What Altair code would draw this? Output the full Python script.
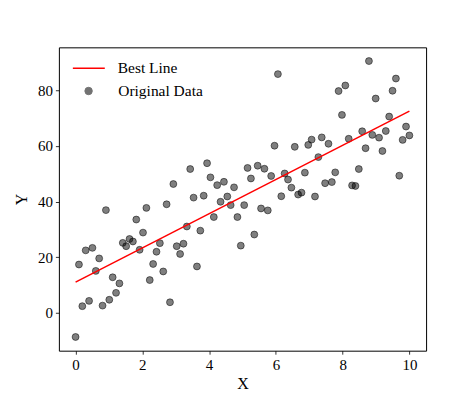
import altair as alt
import pandas as pd

x_vals = [0.0, 0.101, 0.202, 0.303, 0.404, 0.505, 0.606, 0.707, 0.808, 0.909,
          1.010, 1.111, 1.212, 1.313, 1.414, 1.515, 1.616, 1.717, 1.818, 1.919,
          2.020, 2.121, 2.222, 2.323, 2.424, 2.525, 2.626, 2.727, 2.828, 2.929,
          3.030, 3.131, 3.232, 3.333, 3.434, 3.535, 3.636, 3.737, 3.838, 3.939,
          4.040, 4.141, 4.242, 4.343, 4.444, 4.545, 4.646, 4.747, 4.848, 4.949,
          5.051, 5.152, 5.253, 5.354, 5.455, 5.556, 5.657, 5.758, 5.859, 5.960,
          6.061, 6.162, 6.263, 6.364, 6.465, 6.566, 6.667, 6.768, 6.869, 6.970,
          7.071, 7.172, 7.273, 7.374, 7.475, 7.576, 7.677, 7.778, 7.879, 7.980,
          8.081, 8.182, 8.283, 8.384, 8.485, 8.586, 8.687, 8.788, 8.889, 8.990,
          9.091, 9.192, 9.293, 9.394, 9.495, 9.596, 9.697, 9.798, 9.899, 10.0]

y_vals = [-8.8, 17.3, 2.3, 22.4, 4.2, 23.3, 15.0, 19.5, 2.5, 36.9,
          4.6, 12.7, 7.1, 10.5, 25.1, 23.9, 26.5, 25.6, 33.5, 22.6,
          28.8, 37.7, 11.7, 17.5, 21.9, 25.0, 14.8, 39.0, 3.7, 46.3,
          23.9, 21.1, 24.8, 31.0, 51.7, 41.4, 16.6, 29.5, 42.1, 53.8,
          48.7, 34.4, 45.9, 39.9, 47.1, 41.8, 38.7, 45.1, 34.4, 24.1,
          38.7, 52.1, 48.3, 28.1, 52.9, 37.5, 51.8, 36.8, 49.2, 60.1,
          85.9, 41.9, 50.1, 47.9, 45.0, 59.7, 42.5, 43.2, 50.4, 60.4,
          62.3, 41.8, 56.0, 63.1, 46.6, 60.8, 47.0, 50.5, 79.8, 71.2,
          81.8, 62.6, 45.8, 45.6, 51.7, 65.3, 59.2, 90.6, 64.0, 77.1,
          63.0, 58.2, 65.4, 70.6, 79.9, 84.3, 49.3, 62.2, 67.0, 63.8]

x_ticks = [0, 2, 4, 6, 8, 10]
y_ticks = [0, 20, 40, 60, 80]
series_names = ["Best Line", "Original Data"]

df = pd.DataFrame({"x": x_vals, "y": y_vals, "series": series_names[1]})

FONT = "Liberation Serif"

xscale = alt.Scale(domain=[-0.5, 10.5], nice=False, zero=False)
yscale = alt.Scale(domain=[-13.74, 95.54], nice=False, zero=False)

xenc = alt.X("x:Q", scale=xscale,
             axis=alt.Axis(values=x_ticks, title="X", titlePadding=3))
yenc = alt.Y("y:Q", scale=yscale,
             axis=alt.Axis(values=y_ticks, title="Y", titlePadding=8))

points = alt.Chart(df).mark_circle(
    size=48, fillOpacity=0.5, stroke="black", strokeOpacity=0.5, strokeWidth=1
).encode(
    x=xenc, y=yenc,
    fill=alt.Fill("series:N",
                  scale=alt.Scale(domain=[series_names[1]], range=["black"]),
                  legend=alt.Legend(title=None, orient="none", legendX=22, legendY=36,
                                    symbolType="circle", symbolSize=55,
                                    labelOffset=22, labelFontSize=15.5, labelFont=FONT,
                                    padding=0, symbolOpacity=0.55,
                                    symbolStrokeColor="black", symbolStrokeWidth=1)),
)

line = alt.Chart(df).transform_regression(
    "x", "y", extent=[0, 10]
).transform_calculate(
    series2="'" + series_names[0] + "'"
).mark_line(strokeWidth=1.5).encode(
    x=xenc, y=yenc,
    stroke=alt.Stroke("series2:N",
                      scale=alt.Scale(domain=[series_names[0]], range=["#ff0000"]),
                      legend=alt.Legend(title=None, orient="none", legendX=13, legendY=4,
                                        symbolType="stroke", symbolSize=1024,
                                        symbolStrokeWidth=1.5,
                                        labelOffset=12, labelFontSize=15.5, labelFont=FONT,
                                        padding=0)),
)

chart = alt.layer(points, line).resolve_scale(
    fill="independent", stroke="independent"
).properties(
    width=368, height=304,
    autosize=alt.AutoSizeParams(type="none"),
    padding={"left": 51, "top": 39, "right": 40, "bottom": 50},
).configure(
    font=FONT
).configure_view(
    stroke="black", strokeWidth=1
).configure_axis(
    grid=False, domain=False,
    tickColor="black", tickSize=3.5, tickWidth=0.8,
    labelColor="black", labelFont=FONT, labelFontSize=15, labelPadding=3,
    titleColor="black", titleFont=FONT, titleFontSize=16, titleFontWeight="normal",
)

chart.save("out.html", embed_options={"renderer": "svg", "actions": False})
